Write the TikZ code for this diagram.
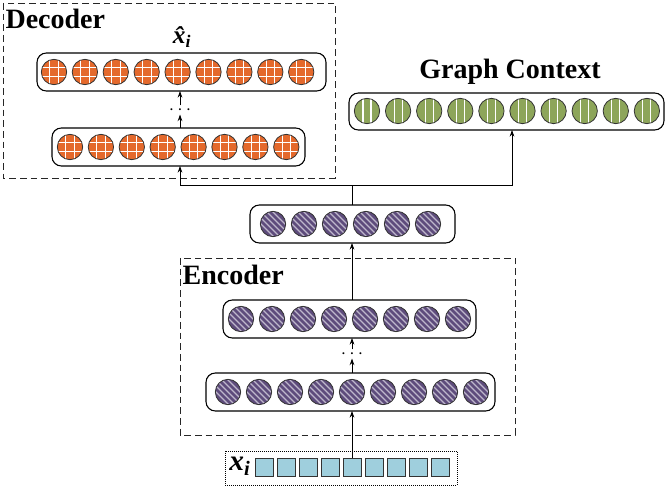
\documentclass[tikz,border=0pt]{standalone}
\usepackage{fontspec}
\setmainfont{Liberation Serif}[BoldFont={Liberation Serif Bold},BoldItalicFont={Liberation Serif Bold Italic}]
\usetikzlibrary{arrows.meta}
\definecolor{decfill}{HTML}{E4692C}
\definecolor{encfill}{HTML}{5E4C7C}
\definecolor{ctxfill}{HTML}{8DA55A}
\definecolor{infill}{HTML}{9FCFDD}
\tikzset{
  unit/.style={circle, draw=black!80, line width=.6pt, minimum size=19pt, inner sep=0pt},
  dec/.style={unit, fill=decfill, path picture={
    \foreach \d in {-3.2pt,3.2pt}{
      \draw[white, line width=.7pt] ([xshift=\d]path picture bounding box.north) -- ([xshift=\d]path picture bounding box.south);
      \draw[white, line width=.7pt] ([yshift=\d]path picture bounding box.west) -- ([yshift=\d]path picture bounding box.east);}}},
  enc/.style={unit, fill=encfill, path picture={
    \foreach \d in {-9pt,-4.5pt,0pt,4.5pt,9pt}{
      \draw[encfill!40!white, line width=1pt] ([xshift=\d-12pt,yshift=12pt]path picture bounding box.center) -- ([xshift=\d+12pt,yshift=-12pt]path picture bounding box.center);}}},
  ctx/.style={unit, fill=ctxfill, path picture={
    \foreach \d in {-3pt,3pt}{
      \draw[white, line width=.8pt] ([xshift=\d]path picture bounding box.north) -- ([xshift=\d]path picture bounding box.south);}}},
  cell/.style={draw=black!80, fill=infill, line width=.5pt, minimum size=13.3pt, inner sep=0pt},
  layer/.style={draw, rounded corners=7pt, line width=.8pt},
  block/.style={draw=black!85, dash pattern=on 5pt off 3pt, line width=.6pt},
  link/.style={-{Stealth[length=5pt,width=3.5pt]}, line width=.6pt},
  title/.style={font=\bfseries\fontsize{21}{21}\selectfont, inner sep=1pt},
  vdots/.style={font=\bfseries\fontsize{14}{14}\selectfont, inner sep=0pt}
}
\begin{document}
\begin{tikzpicture}[x=0.75pt,y=-0.75pt]
\useasboundingbox (0,0) rectangle (672,488);
% decoder
\draw[block] (3,3) rectangle (335,178);
\node[title, anchor=west] (dectitle) at (4,19) {Decoder};
\node[font=\bfseries\itshape\fontsize{19}{19}\selectfont, inner sep=0pt] (xhat) at (182,37) {\^{x}\textsubscript{i}};
\draw[layer] (37,53) rectangle (326,91);
\foreach \i in {0,...,8} \node[dec] (dt\i) at (54+30.9*\i,72) {};
\draw[layer] (52,128) rectangle (305,166);
\foreach \i in {0,...,7} \node[dec] (db\i) at (70+30.9*\i,147) {};
\coordinate (dbtop) at (180,128);
\coordinate (dbbot) at (180,166);
\coordinate (dttop) at (180,91);
\node[vdots] (ddots) at (180,110) {$\cdots$};
\draw[link] (ddots) -- (dttop);
\draw[link] (dbtop) -- (ddots);
% graph context
\node[title] (ctxtitle) at (510,72) {Graph Context};
\draw[layer] (349,93) rectangle (664,130);
\foreach \i in {0,...,9} \node[ctx] (c\i) at (367+31.1*\i,111) {};
\coordinate (ctxbot) at (512,130);
% middle layer
\draw[layer] (250,205) rectangle (455,243);
\foreach \i in {0,...,5} \node[enc] (m\i) at (273+31*\i,224) {};
\coordinate (mtop) at (352,205);
\coordinate (mbot) at (352,243);
\coordinate (split) at (352,185);
\draw[line width=.6pt] (mtop) -- (split);
\draw[link] (split) -| (dbbot);
\draw[link] (split) -| (ctxbot);
% encoder
\draw[block] (180,258) rectangle (515,435);
\node[title, anchor=west] (enctitle) at (181,275) {Encoder};
\draw[layer] (223,300) rectangle (476,338);
\foreach \i in {0,...,7} \node[enc] (et\i) at (241+31*\i,319) {};
\draw[layer] (206,373) rectangle (495,411);
\foreach \i in {0,...,8} \node[enc] (eb\i) at (228+31*\i,392) {};
\coordinate (ettop) at (352,300);
\coordinate (etbot) at (352,338);
\coordinate (ebtop) at (352,373);
\coordinate (ebbot) at (352,411);
\node[vdots] (edots) at (352,354) {$\cdots$};
\draw[link] (ettop) -- (mbot);
\draw[link] (edots) -- (etbot);
\draw[link] (ebtop) -- (edots);
% input
\draw[densely dotted, line width=.5pt] (225,451) rectangle (457,485);
\node[font=\bfseries\itshape\fontsize{22}{22}\selectfont, inner sep=0pt] (xin) at (240,466) {x\textsubscript{i}};
\foreach \i in {0,...,8} \node[cell] (s\i) at (264+22*\i,467) {};
\draw[link] (s4.north) -- (ebbot);
\end{tikzpicture}
\end{document}
